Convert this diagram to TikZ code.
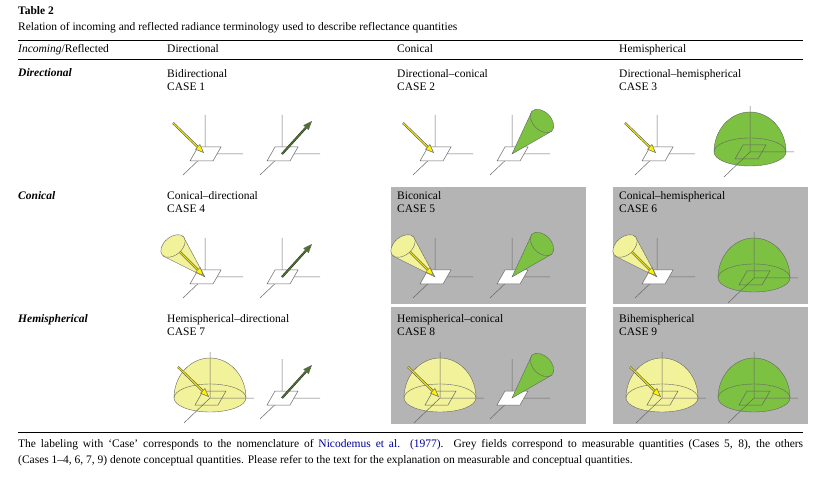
\documentclass[tikz,border=0pt]{standalone}
\usepackage{fontspec}
\setmainfont{Liberation Serif}
\usetikzlibrary{arrows.meta}
\definecolor{yl}{HTML}{F2F29A}
\definecolor{gr}{HTML}{7CC142}
\definecolor{gy}{HTML}{B4B4B4}
\begin{document}
\begin{tikzpicture}[x=1pt,y=1pt,
 txt/.style={font=\fontsize{11.5}{13}\selectfont,anchor=base west,inner sep=0},
 bt/.style={txt,font=\fontsize{11.5}{13}\selectfont\bfseries},
 ax/.style={draw=black!60,line width=0.5pt},
 inarr/.style={line width=0.5pt,draw=black!70,double=yellow!90!black,double distance=1.2pt,-{Triangle[length=9pt,width=7pt,color=black!60,fill=yellow]}},
 outarr/.style={line width=0.5pt,draw=black!80,double=gr!60!black,double distance=1.2pt,-{Triangle[length=9pt,width=7pt,color=black!60,fill=gr!60!black]}},
 axes/.pic={\draw[ax](0,0)--(0,39) (0,0)--(38,0) (0,0)--(-22,-21);
   \draw[ax,fill=white](-15,-7)--(-7,7)--(16,7)--(8,-7)--cycle;},
 hemi/.pic={\fill[#1,draw=black!60,line width=0.4pt](-36,0) arc[start angle=180,end angle=0,x radius=36,y radius=40] arc[start angle=0,end angle=-180,x radius=36,y radius=14]--cycle;
   \draw[black!60,line width=0.4pt](36,0) arc[start angle=0,end angle=180,x radius=36,y radius=14];},
 hemiaxes/.pic={\draw[ax](0,0)--(0,46) (0,0)--(44,0) (0,0)--(-26,-25);
   \draw[ax](-15,-7)--(-7,7)--(16,7)--(8,-7)--cycle;},
 incone/.pic={\fill[yl,draw=black!60,line width=0.4pt](0,0)--(-32+10,31+10)--(-32-10,31-10)--cycle;
   \fill[yl,draw=black!60,line width=0.4pt](-32,31) ellipse[x radius=14,y radius=9,rotate=40];},
 outcone/.pic={\fill[gr,draw=black!60,line width=0.4pt](0,0)--(30-10,33+10)--(30+10,33-10)--cycle;
   \fill[gr,draw=black!60,line width=0.4pt](30,33) ellipse[x radius=14,y radius=9,rotate=-45];},
]
\useasboundingbox (0,0) rectangle (817,-481);
% grey cells
\foreach \x/\y in {391/-187,613/-187,391/-307,613/-307}
  \fill[gy] (\x,\y) rectangle ++(195,-117);
% header
\node[bt] (t1) at (18,-15) {Table 2};
\node[txt] (t2) at (18,-31) {Relation of incoming and reflected radiance terminology used to describe reflectance quantities};
\draw[line width=0.8pt] (18,-40)--(803,-40);
\node[txt] (h0) at (18,-53) {\textit{Incoming}/Reflected};
\node[txt] (h1) at (167,-53) {Directional};
\node[txt] (h2) at (397,-53) {Conical};
\node[txt] (h3) at (619,-53) {Hemispherical};
\draw[line width=0.4pt] (18,-59)--(803,-59);
\node[txt,font=\fontsize{11.5}{13}\selectfont\bfseries\itshape] (r1) at (18,-77) {Directional};
\node[txt,font=\fontsize{11.5}{13}\selectfont\bfseries\itshape] (r2) at (18,-200) {Conical};
\node[txt,font=\fontsize{11.5}{13}\selectfont\bfseries\itshape] (r3) at (18,-322) {Hemispherical};
% cell titles
\foreach \x/\y/\a/\b/\n in {167/-78/Bidirectional/CASE 1/1,397/-78/Directional--conical/CASE 2/2,619/-78/Directional--hemispherical/CASE 3/3,
 167/-200/Conical--directional/CASE 4/4,397/-200/Biconical/CASE 5/5,619/-200/Conical--hemispherical/CASE 6/6,
 167/-322/Hemispherical--directional/CASE 7/7,397/-322/Hemispherical--conical/CASE 8/8,619/-322/Bihemispherical/CASE 9/9}{
 \node[txt] (ca\n) at (\x,\y) {\a};
 \node[txt] (cb\n) at (\x,\y-13) {\b};}
% ---- row 1
\pic at (205,-154) {axes}; \draw[inarr] (173,-123)--(204,-153);
\pic at (282,-154) {axes}; \draw[outarr] (282,-154)--(312,-121);
\pic at (435,-154) {axes}; \draw[inarr] (403,-123)--(434,-153);
\pic at (512,-154) {axes}; \pic at (512,-154) {outcone};
\pic at (657,-154) {axes}; \draw[inarr] (625,-123)--(656,-153);
\pic at (750,-152) {hemi=gr}; \pic at (750,-152) {hemiaxes};
% ---- row 2
\pic at (205,-277) {axes}; \pic at (205,-277) {incone}; \draw[inarr] (180,-252)--(204,-276);
\pic at (282,-277) {axes}; \draw[outarr] (282,-277)--(312,-244);
\pic at (435,-277) {axes}; \pic at (435,-277) {incone}; \draw[inarr] (410,-252)--(434,-276);
\pic at (512,-277) {axes}; \pic at (512,-277) {outcone};
\pic at (657,-277) {axes}; \pic at (657,-277) {incone}; \draw[inarr] (632,-252)--(656,-276);
\pic at (754,-278) {hemi=gr}; \pic at (754,-278) {hemiaxes};
% ---- row 3
\pic at (210,-398) {hemi=yl}; \pic at (210,-398) {hemiaxes}; \draw[inarr] (178,-367)--(209,-397);
\pic at (282,-398) {axes}; \draw[outarr] (282,-398)--(312,-365);
\pic at (440,-398) {hemi=yl}; \pic at (440,-398) {hemiaxes}; \draw[inarr] (408,-367)--(439,-397);
\pic at (512,-398) {axes}; \pic at (512,-398) {outcone};
\pic at (662,-398) {hemi=yl}; \pic at (662,-398) {hemiaxes}; \draw[inarr] (630,-367)--(661,-397);
\pic at (754,-398) {hemi=gr}; \pic at (754,-398) {hemiaxes};
% footer
\draw[line width=0.8pt] (18,-432)--(803,-432);
\node[txt] (f1) at (18,-447) {\makebox[785pt][s]{The labeling with `Case' corresponds to the nomenclature of \textcolor{blue!60!black}{Nicodemus et al. (1977)}. Grey fields correspond to measurable quantities (Cases 5, 8), the others}};
\node[txt] (f2) at (18,-463) {(Cases 1--4, 6, 7, 9) denote conceptual quantities. Please refer to the text for the explanation on measurable and conceptual quantities.};
\end{tikzpicture}
\end{document}
